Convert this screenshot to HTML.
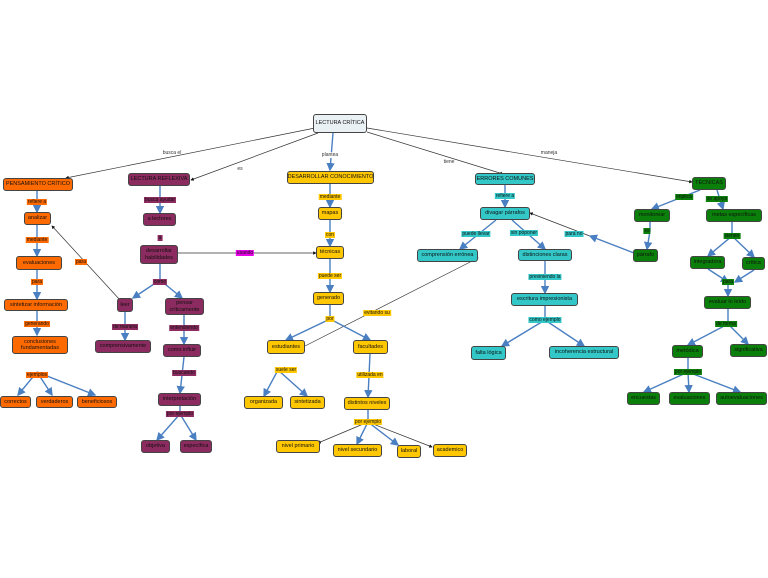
<!DOCTYPE html>
<html><head><meta charset="utf-8"><style>
body{margin:0;width:768px;height:578px;background:#fff;position:relative;overflow:hidden;font-family:"Liberation Sans",sans-serif}
.b{position:absolute;display:flex;align-items:center;justify-content:center;text-align:center;font-size:5.5px;line-height:6.5px;border:1px solid #444;border-radius:3px;box-sizing:border-box;color:#111;white-space:nowrap;overflow:visible}
.l{position:absolute;font-size:5px;line-height:6px;padding:0 1px;transform:translate(-50%,-50%);white-space:nowrap;color:#111}
.o{background:#ff6a00}.p{background:#8c2b5f}.y{background:#ffc700}.t{background:#33c7c7}.g{background:#0a800a}
.r{background:#eaf1f5}
.t0{color:#333}
svg{position:absolute;left:0;top:0}
</style></head><body>
<svg width="768" height="578">
<defs>
<marker id="a" markerWidth="6" markerHeight="6" refX="5" refY="3" orient="auto"><path d="M0,0L6,3L0,6z" fill="#4a7fc1"/></marker>
<marker id="k" markerWidth="5" markerHeight="5" refX="4" refY="2.5" orient="auto"><path d="M0,0L5,2.5L0,5z" fill="#111"/></marker>
</defs>
<g stroke="#333" stroke-width="0.7" fill="none" marker-end="url(#k)">
<path d="M315,128L66,178"/><path d="M318,133L191,180"/><path d="M367,132L503,174"/><path d="M367,128L692,182"/>
<path d="M120,300L52,226"/><path d="M178,253L316,253"/><path d="M305,346L478,258"/><path d="M368,422L318,443"/><path d="M368,422L432,447"/>
<path d="M634,253L530,213"/>
</g>
<g stroke="#4a7fc1" stroke-width="1.4" fill="none" marker-end="url(#a)">
<path d="M333,133L330,170"/>
<path d="M37,191L37,212"/><path d="M37,225L37,256"/><path d="M37,270L37,299"/><path d="M37,310L37,335"/>
<path d="M37,372L18,395"/><path d="M37,372L52,395"/><path d="M37,372L95,395"/>
<path d="M160,186L160,213"/><path d="M160,264L160,280L133,298"/><path d="M160,280L182,298"/>
<path d="M125,312L125,340"/><path d="M184,315L184,344"/><path d="M184,357L180,393"/><path d="M180,406L180,414L157,440"/><path d="M180,414L196,440"/>
<path d="M330,184L330,207"/><path d="M330,220L330,246"/><path d="M330,259L330,292"/><path d="M330,305L330,319L286,340"/><path d="M330,319L370,340"/>
<path d="M278,370L264,396"/><path d="M278,370L307,396"/><path d="M370,354L368,397"/><path d="M368,410L368,422L357,444"/><path d="M368,422L398,445"/>
<path d="M505,185L505,207"/><path d="M496,220L460,249"/><path d="M512,220L545,249"/><path d="M545,260L545,293"/><path d="M545,306L545,320L502,346"/><path d="M545,320L584,346"/>
<path d="M634,253L590,236"/>
<path d="M700,190L652,209"/><path d="M717,190L723,209"/><path d="M650,222L650,231L647,249"/><path d="M732,222L732,236L708,256"/><path d="M732,236L754,257"/>
<path d="M708,269L728,282"/><path d="M754,270L735,282"/><path d="M728,282L728,296"/><path d="M728,309L728,324L688,345"/><path d="M728,324L748,344"/>
<path d="M688,358L688,372L644,392"/><path d="M688,372L689,392"/><path d="M688,372L740,392"/>
</g>
</svg>
<div class="b r" style="left:313px;top:114px;width:54px;height:19px">LECTURA CRÍTICA</div>
<div class="l t0" style="left:172px;top:153px">busca el</div><div class="l t0" style="left:240px;top:169px;background:#fff">es</div>
<div class="l t0" style="left:330px;top:155px;background:#fff">plantea</div><div class="l t0" style="left:449px;top:162px">tiene</div><div class="l t0" style="left:549px;top:153px;background:#fff">maneja</div>

<div class="b o" style="left:3px;top:178px;width:70px;height:13px">PENSAMIENTO CRÍTICO</div>
<div class="l o" style="left:37px;top:202px">refiere a</div>
<div class="b o" style="left:24px;top:212px;width:27px;height:13px">analizar</div>
<div class="l o" style="left:37px;top:240px">mediante</div>
<div class="b o" style="left:16px;top:256px;width:46px;height:14px">evaluaciones</div>
<div class="l o" style="left:37px;top:282px">para</div>
<div class="b o" style="left:4px;top:299px;width:64px;height:12px">sintetizar información</div>
<div class="l o" style="left:37px;top:324px">generando</div>
<div class="b o" style="left:12px;top:336px;width:56px;height:18px">conclusiones<br>fundamentadas</div>
<div class="l o" style="left:37px;top:375px">ejemplos</div>
<div class="b o" style="left:0px;top:396px;width:31px;height:12px">correctos</div>
<div class="b o" style="left:36px;top:396px;width:37px;height:12px">verdaderos</div>
<div class="b o" style="left:77px;top:396px;width:40px;height:12px">beneficiosos</div>
<div class="l o" style="left:81px;top:262px">para</div>

<div class="b p" style="left:128px;top:173px;width:62px;height:13px">LECTURA REFLEXIVA</div>
<div class="l p" style="left:160px;top:200px">busca ayudar</div>
<div class="b p" style="left:143px;top:213px;width:33px;height:13px">a lectores</div>
<div class="l p" style="left:160px;top:238px">a</div>
<div class="b p" style="left:140px;top:245px;width:38px;height:19px">desarrollar<br>habilidades</div>
<div class="l p" style="left:160px;top:282px">como</div>
<div class="b p" style="left:117px;top:298px;width:16px;height:14px">leer</div>
<div class="b p" style="left:165px;top:298px;width:39px;height:17px">pensar<br>críticamente</div>
<div class="l p" style="left:125px;top:327px">de manera</div>
<div class="b p" style="left:95px;top:340px;width:56px;height:13px">comprensivamente</div>
<div class="l p" style="left:184px;top:328px">entendiendo</div>
<div class="b p" style="left:163px;top:344px;width:38px;height:13px">como influir</div>
<div class="l p" style="left:184px;top:373px">buscando</div>
<div class="b p" style="left:158px;top:393px;width:43px;height:13px">interpretación</div>
<div class="l p" style="left:180px;top:414px">por ejemplo</div>
<div class="b p" style="left:141px;top:440px;width:29px;height:13px">objetiva</div>
<div class="b p" style="left:180px;top:440px;width:32px;height:13px">específica</div>
<div class="l" style="left:245px;top:253px;background:#e600e6">usando</div>

<div class="b y" style="left:287px;top:171px;width:87px;height:13px">DESARROLLAR CONOCIMIENTO</div>
<div class="l y" style="left:330px;top:197px">mediante</div>
<div class="b y" style="left:318px;top:207px;width:24px;height:13px">mapas</div>
<div class="l y" style="left:330px;top:235px">con</div>
<div class="b y" style="left:316px;top:246px;width:28px;height:13px">técnicas</div>
<div class="l y" style="left:330px;top:276px">puede ser</div>
<div class="b y" style="left:313px;top:292px;width:31px;height:13px">generado</div>
<div class="l y" style="left:330px;top:319px">por</div>
<div class="l y" style="left:377px;top:313px">evitando su</div>
<div class="b y" style="left:267px;top:340px;width:38px;height:14px">estudiantes</div>
<div class="b y" style="left:353px;top:340px;width:35px;height:14px">facultades</div>
<div class="l y" style="left:286px;top:370px">suele ser</div>
<div class="b y" style="left:244px;top:396px;width:39px;height:13px">organizada</div>
<div class="b y" style="left:290px;top:396px;width:35px;height:13px">sintetizada</div>
<div class="l y" style="left:370px;top:375px">utilizada en</div>
<div class="b y" style="left:344px;top:397px;width:46px;height:13px">distintos niveles</div>
<div class="l y" style="left:368px;top:422px">por ejemplo</div>
<div class="b y" style="left:276px;top:440px;width:44px;height:13px">nivel primario</div>
<div class="b y" style="left:333px;top:444px;width:49px;height:13px">nivel secundario</div>
<div class="b y" style="left:397px;top:445px;width:24px;height:13px">laboral</div>
<div class="b y" style="left:433px;top:444px;width:34px;height:13px">academico</div>

<div class="b t" style="left:475px;top:173px;width:60px;height:12px">ERRORES COMUNES</div>
<div class="l t" style="left:505px;top:196px">refiere a</div>
<div class="b t" style="left:480px;top:207px;width:50px;height:13px">divagar párrafos</div>
<div class="l t" style="left:476px;top:234px">puede llevar</div>
<div class="l t" style="left:524px;top:233px">sin poponer</div>
<div class="l t" style="left:574px;top:234px">para no</div>
<div class="b t" style="left:417px;top:249px;width:61px;height:13px">comprensión errónea</div>
<div class="b t" style="left:518px;top:249px;width:54px;height:12px">distinciones claras</div>
<div class="l t" style="left:545px;top:277px">previniendo la</div>
<div class="b t" style="left:511px;top:293px;width:67px;height:13px">escritura impresionista</div>
<div class="l t" style="left:545px;top:320px">como ejemplo</div>
<div class="b t" style="left:471px;top:346px;width:35px;height:14px">falta lógica</div>
<div class="b t" style="left:549px;top:346px;width:70px;height:13px">incoherencia estructural</div>

<div class="b g" style="left:692px;top:177px;width:34px;height:13px">TÉCNICAS</div>
<div class="l g" style="left:684px;top:197px">implica</div>
<div class="l g" style="left:717px;top:199px">se apoya</div>
<div class="b g" style="left:634px;top:209px;width:36px;height:13px">monitorear</div>
<div class="l g" style="left:647px;top:231px">es</div>
<div class="b g" style="left:633px;top:249px;width:25px;height:13px">párrafo</div>
<div class="b g" style="left:706px;top:209px;width:56px;height:13px">metas específicas</div>
<div class="l g" style="left:732px;top:236px">siendo</div>
<div class="b g" style="left:690px;top:256px;width:35px;height:13px">integradora</div>
<div class="b g" style="left:742px;top:257px;width:23px;height:13px">crítica</div>
<div class="l g" style="left:728px;top:282px">para</div>
<div class="b g" style="left:704px;top:296px;width:47px;height:13px">evaluar lo leído</div>
<div class="l g" style="left:726px;top:324px">de forma</div>
<div class="b g" style="left:672px;top:345px;width:31px;height:13px">metódica</div>
<div class="b g" style="left:730px;top:344px;width:37px;height:13px">significativa</div>
<div class="l g" style="left:688px;top:372px">por ejemplo</div>
<div class="b g" style="left:627px;top:392px;width:33px;height:13px">encuestas</div>
<div class="b g" style="left:669px;top:392px;width:41px;height:13px">evaluaciones</div>
<div class="b g" style="left:716px;top:392px;width:51px;height:13px">autoevaluaciones</div>
</body></html>
